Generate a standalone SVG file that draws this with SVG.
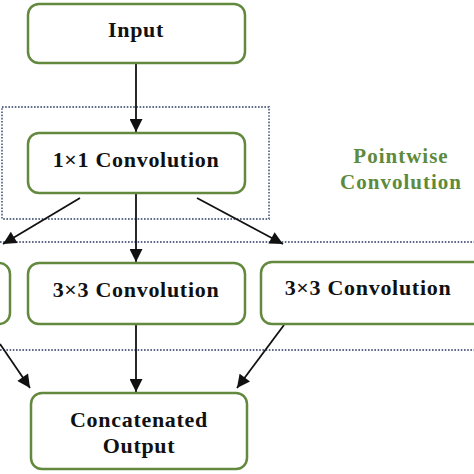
<svg xmlns="http://www.w3.org/2000/svg" width="474" height="474" viewBox="0 0 474 474">
<defs>
<style>
.box{fill:#fff;stroke:#63893f;stroke-width:2.5}
.t{font-family:"Liberation Serif",serif;font-weight:bold;font-size:22px;letter-spacing:0.7px;fill:#111;text-anchor:middle}
.g{font-family:"Liberation Serif",serif;font-weight:bold;font-size:21px;letter-spacing:1px;fill:#5d8a3c;text-anchor:middle}
.dot{fill:none;stroke:#5f6b8a;stroke-width:1.8;stroke-dasharray:1.6 1.6}
.c{stroke:#111;stroke-width:1.8;fill:none;marker-end:url(#ah)}
</style>
<marker id="ah" viewBox="0 0 10 10" refX="10" refY="5" markerWidth="14" markerHeight="13" markerUnits="userSpaceOnUse" orient="auto"><path d="M0,0 L10,5 L0,10 z" fill="#111"/></marker>
</defs>
<rect width="474" height="474" fill="#fff"/>
<g id="regions">
<rect class="dot" x="2" y="107" width="267" height="112"/>
<line class="dot" x1="0" y1="242" x2="474" y2="242"/>
<line class="dot" x1="0" y1="350" x2="474" y2="350"/>
</g>
<g id="connectors">
<line class="c" x1="136" y1="64" x2="136" y2="132"/>
<line class="c" x1="80" y1="198" x2="3" y2="244"/>
<line class="c" x1="136" y1="194" x2="136" y2="262"/>
<line class="c" x1="197" y1="198" x2="283" y2="244"/>
<line class="c" x1="0" y1="344" x2="30" y2="388"/>
<line class="c" x1="136" y1="325" x2="136" y2="392"/>
<line class="c" x1="284" y1="325" x2="237" y2="388"/>
</g>
<g id="input"><rect class="box" x="28" y="4" width="217" height="59" rx="11"/><text class="t" x="136" y="37">Input</text></g>
<g id="conv1x1"><rect class="box" x="28" y="133" width="217" height="60" rx="11"/><text class="t" x="136" y="167">1×1 Convolution</text></g>
<g id="conv3x3-left"><rect class="box" x="-210" y="263" width="220" height="61" rx="11"/></g>
<g id="conv3x3-mid"><rect class="box" x="28" y="263" width="217" height="61" rx="11"/><text class="t" x="136" y="297">3×3 Convolution</text></g>
<g id="conv3x3-right"><rect class="box" x="261" y="262" width="225" height="62" rx="11"/><text class="t" x="368" y="295">3×3 Convolution</text></g>
<g id="output"><rect class="box" x="31" y="393" width="216" height="76" rx="11"/><text class="t" x="139" y="427">Concatenated</text><text class="t" x="139" y="453">Output</text></g>
<g id="label"><text class="g" x="401" y="163">Pointwise</text><text class="g" x="401" y="189">Convolution</text></g>
</svg>
